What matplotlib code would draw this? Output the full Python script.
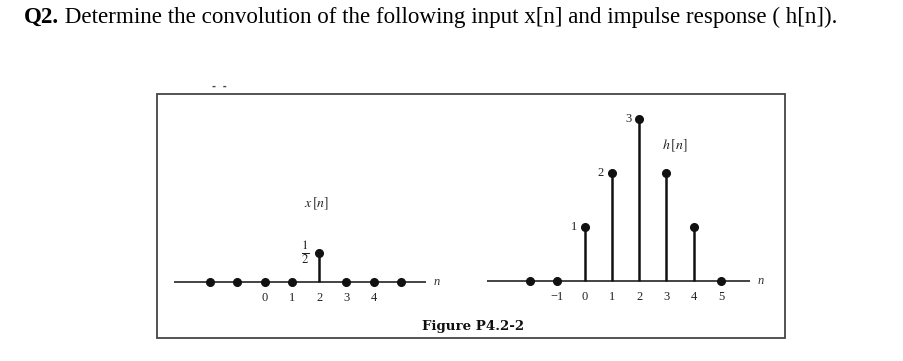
import matplotlib
matplotlib.use("Agg")
import matplotlib.pyplot as plt
from matplotlib.patches import Rectangle

plt.rcParams['mathtext.fontset'] = 'stix'

# ---- data ----
x_n = [-2, -1, 0, 1, 2, 3, 4, 5]
x_vals = [0, 0, 0, 0, 0.5, 0, 0, 0]
x_ticks = [0, 1, 2, 3, 4]

h_n = [-2, -1, 0, 1, 2, 3, 4, 5]
h_vals = [0, 0, 1, 2, 3, 2, 1, 0]
h_ticks = [-1, 0, 1, 2, 3, 4, 5]
h_value_labels = {0: "1", 1: "2", 2: "3"}

title_bold = "Q2."
title_rest = " Determine the convolution of the following input x[n] and impulse response ( h[n])."
caption = "Figure P4.2-2"

W, H = 904, 361
fig = plt.figure(figsize=(W / 100, H / 100), dpi=100)
fig.patch.set_facecolor('white')

ov = fig.add_axes([0, 0, 1, 1])
ov.set_xlim(0, W)
ov.set_ylim(H, 0)
ov.axis('off')


def px_axes(left, right, base, scale, y0, y1, xmin, xmax):
    top = base - y1 * scale
    bottom = base - y0 * scale
    ax = fig.add_axes([left / W, 1 - bottom / H, (right - left) / W, (bottom - top) / H])
    ax.set_xlim(xmin, xmax)
    ax.set_ylim(y0, y1)
    ax.axis('off')
    return ax


serif = ['Liberation Serif', 'DejaVu Serif']
ink = '#111111'

# box
ov.add_patch(Rectangle((157, 94), 628, 244, fill=False, ec='#444444', lw=1.3))
ov.text(219, 87, "-  -", fontsize=7, fontweight='bold', ha='center', va='center', color='#444444')

# title
t1 = ov.text(24, 23, title_bold, fontsize=16.6, fontweight='bold', family=serif,
             ha='left', va='baseline', color='black')
ov.annotate(title_rest, xy=(1, 0), xycoords=t1, fontsize=16.6, family=serif,
            ha='left', va='bottom', color='black')

# caption
ov.text(473, 330, caption, fontsize=9.6, fontweight='bold', family=['DejaVu Serif'],
        ha='center', va='baseline', color=ink)

# ---- x[n] ----
axx = px_axes(174, 426, 282, 58, -0.6, 1.6, -3.32, 5.92)
axx.plot([-3.32, 5.92], [0, 0], color=ink, lw=1.1, solid_capstyle='butt')
for n, v in zip(x_n, x_vals):
    if v != 0:
        axx.vlines(n, 0, v, color=ink, lw=1.8)
axx.plot(x_n, x_vals, 'o', color=ink, ms=5.5)
for t in x_ticks:
    axx.text(t, -0.17, str(t), fontsize=9, family=serif, ha='center', va='top', color='#222222')
axx.text(6.2, 0, "n", fontsize=9, family=serif, style='italic', ha='left', va='center', color='#333333')
axx.text(1.5, 0.5, r"$\frac{1}{2}$", fontsize=13, ha='center', va='center', color='#222222')
axx.text(1.9, 1.34, r"$x\,[n]$", fontsize=10, ha='center', va='center', color='#222222')

# ---- h[n] ----
axh = px_axes(487, 750, 281, 54, -0.6, 3.5, -3.575, 6.06)
axh.plot([-3.575, 6.06], [0, 0], color=ink, lw=1.1, solid_capstyle='butt')
for n, v in zip(h_n, h_vals):
    if v != 0:
        axh.vlines(n, 0, v, color=ink, lw=1.8)
axh.plot(h_n, h_vals, 'o', color=ink, ms=5.5)
for t in h_ticks:
    lab = "\u22121" if t < 0 else str(t)
    axh.text(t, -0.18, lab, fontsize=9, family=serif, ha='center', va='top', color='#222222')
axh.text(6.35, 0, "n", fontsize=9, family=serif, style='italic', ha='left', va='center', color='#333333')
for n, lab in h_value_labels.items():
    axh.text(n - 0.4, h_vals[h_n.index(n)], lab, fontsize=9, family=serif,
             ha='center', va='center', color='#222222')
axh.text(3.3, 2.5, r"$h\,[n]$", fontsize=10, ha='center', va='center', color='#222222')

fig.savefig("out.png", dpi=100, facecolor='white')
